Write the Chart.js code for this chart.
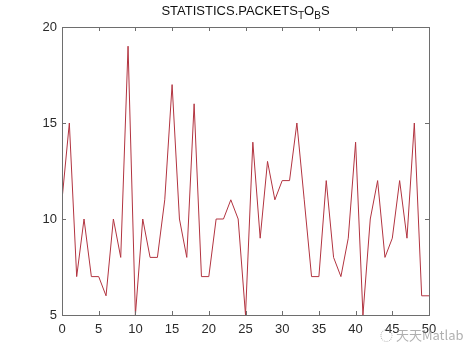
<!DOCTYPE html>
<html>
<head>
<meta charset="utf-8">
<script src="https://cdn.jsdelivr.net/npm/chart.js@4/dist/chart.umd.min.js"></script>
<style>
  html, body { margin: 0; padding: 0; background: #fff; }
  #wrap { position: relative; width: 474px; height: 355px; }
  #title { position: absolute; left: 0; width: 491px; top: 4px; text-align: center;
           font-family: "Liberation Sans", Arial, sans-serif; font-size: 13px; color: #111; line-height: 14px; }
  #title sub { font-size: 10px; vertical-align: -4px; line-height: 0; }
  #wm { position: absolute; left: 380px; top: 325px; font-family: "Noto Sans CJK SC", "Liberation Sans", sans-serif;
        font-size: 13px; color: rgba(150,150,150,0.75); }
</style>
</head>
<body>
<div id="wrap">
  <canvas id="c" width="474" height="355"></canvas>
  <div id="title">STATISTICS.PACKETS<sub>T</sub>O<sub>B</sub>S</div>
  <div id="wm">◌ 天天Matlab</div>
</div>
<script>
const xValues = [0,1,2,3,4,5,6,7,8,9,10,11,12,13,14,15,16,17,18,19,20,21,22,23,24,25,26,27,28,29,30,31,32,33,34,35,36,37,38,39,40,41,42,43,44,45,46,47,48,49,50];
const packets = [11,15,7,10,7,7,6,10,8,19,5,10,8,8,11,17,10,8,16,7,7,10,10,11,10,5,14,9,13,11,12,12,15,11,7,7,12,8,7,9,14,5,10,12,8,9,12,9,15,6,6];
const xTicks = [0,5,10,15,20,25,30,35,40,45,50];
const yTicks = [5,10,15,20];

const points = xValues.map((x, i) => ({ x: x, y: packets[i] }));

const boxPlugin = {
  id: 'box',
  afterDraw(chart) {
    const { ctx, chartArea: { left, right, top, bottom }, scales: { x, y } } = chart;
    ctx.save();
    ctx.strokeStyle = '#6e6e6e';
    ctx.lineWidth = 1;
    ctx.strokeRect(Math.round(left) + 0.5, Math.round(top) + 0.5, Math.round(right - left), Math.round(bottom - top));
    const tl = 4;
    ctx.beginPath();
    xTicks.forEach(v => {
      const px = Math.round(x.getPixelForValue(v)) + 0.5;
      ctx.moveTo(px, bottom); ctx.lineTo(px, bottom - tl);
      ctx.moveTo(px, top); ctx.lineTo(px, top + tl);
    });
    yTicks.forEach(v => {
      const py = Math.round(y.getPixelForValue(v)) + 0.5;
      ctx.moveTo(left, py); ctx.lineTo(left + tl, py);
      ctx.moveTo(right, py); ctx.lineTo(right - tl, py);
    });
    ctx.stroke();
    ctx.restore();
  }
};

new Chart(document.getElementById('c'), {
  type: 'scatter',
  data: {
    datasets: [{
      data: points,
      showLine: true,
      borderColor: '#b23440',
      borderWidth: 1,
      pointRadius: 0,
      tension: 0,
      fill: false
    }]
  },
  options: {
    responsive: false,
    animation: false,
    devicePixelRatio: 1,
    layout: { padding: { top: 27, right: 45, left: 0, bottom: 0 } },
    plugins: { legend: { display: false }, tooltip: { enabled: false }, title: { display: false } },
    scales: {
      x: {
        type: 'linear', min: 0, max: 50,
        afterFit(s) { s.height = 40; },
        afterBuildTicks(s) { s.ticks = xTicks.map(v => ({ value: v })); },
        grid: { display: false, drawTicks: false },
        border: { display: false },
        ticks: { padding: 7, color: '#2a2a2a', font: { family: '"Liberation Sans", Arial, sans-serif', size: 13 }, maxRotation: 0 }
      },
      y: {
        type: 'linear', min: 5, max: 20,
        afterFit(s) { s.width = 62; },
        afterBuildTicks(s) { s.ticks = yTicks.map(v => ({ value: v })); },
        grid: { display: false, drawTicks: false },
        border: { display: false },
        ticks: { padding: 5, color: '#2a2a2a', font: { family: '"Liberation Sans", Arial, sans-serif', size: 13 } }
      }
    }
  },
  plugins: [boxPlugin]
});
</script>
</body>
</html>
